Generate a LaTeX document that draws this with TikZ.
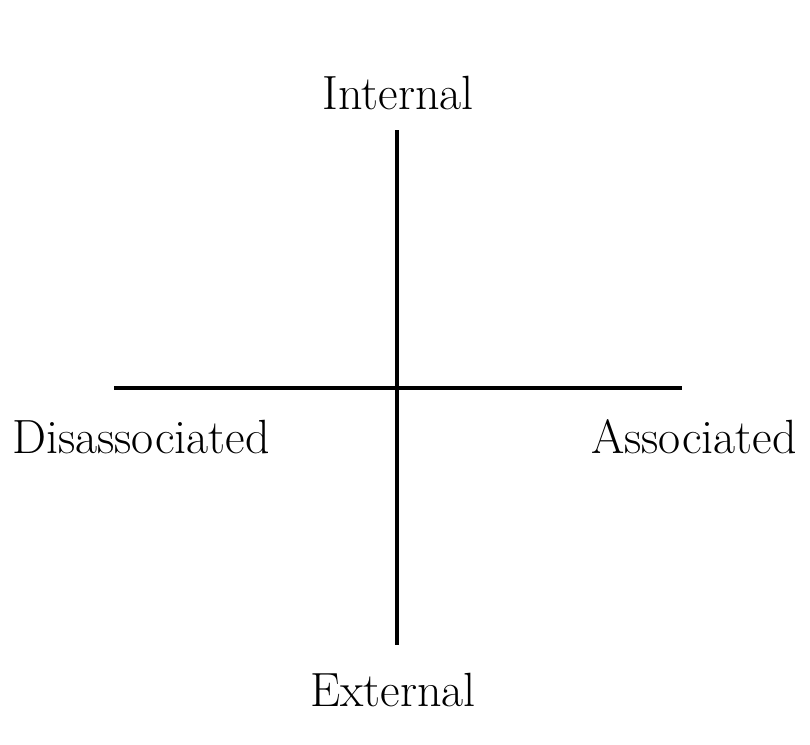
\documentclass[tikz,border=0pt]{standalone}
\begin{document}
\begin{tikzpicture}[x=0.03cm,y=-0.03cm]
	\tikzset{axislabel/.style={font=\fontsize{41}{44}\selectfont, inner sep=0pt}}

	% page
	\useasboundingbox (0,0) rectangle (810,744);

	% axes
	\draw[line width=3.2pt] (397,130)--(397,645);
	\draw[line width=3.2pt] (114,388)--(682,388);

	% axis labels
	\draw (398,93) node[axislabel] (internal) {Internal};
	\draw (393,690) node[axislabel] (external) {External};
	\draw (12,437) node[axislabel,anchor=west] (disassociated) {Disassociated};
	\draw (797,437) node[axislabel,anchor=east] (associated) {Associated};

\end{tikzpicture}
\end{document}
